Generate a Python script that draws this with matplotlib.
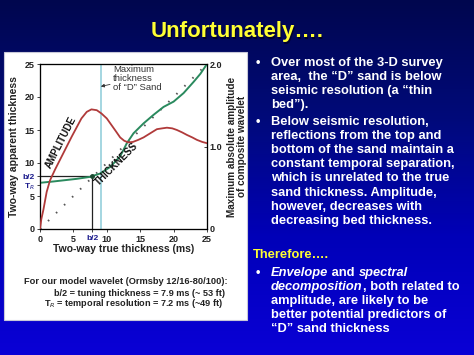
import numpy as np
import matplotlib
matplotlib.use("Agg")
import matplotlib.pyplot as plt
from matplotlib.colors import LinearSegmentedColormap
from matplotlib.patches import Rectangle

# ---------------- data ----------------
thick_x = [0, 2, 5.5, 7.5, 9, 10.5, 12, 13, 14, 15.5, 17, 18.5, 20, 21.5, 23, 24, 25]
thick_y = [7.0, 7.2, 7.6, 7.9, 8.4, 9.4, 11.0, 13.0, 14.5, 16.0, 17.3, 18.5, 19.3, 20.6, 22.3, 23.5, 25.0]

amp_x = [0, 0.2, 0.5, 1.0, 1.5, 2.25, 3.25, 4.75, 6.2, 7.0, 7.7, 8.5, 9.2, 10.0, 10.7, 11.4,
         12.0, 12.6, 13.2, 13.9, 14.7, 15.5, 16.5, 17.5, 18.3, 19.0, 19.8, 20.5, 21.3, 22.0,
         22.8, 23.5, 24.3, 25.0]
amp_y = [0.0, 0.12, 0.23, 0.45, 0.59, 0.72, 0.88, 1.12, 1.34, 1.42, 1.45, 1.44, 1.40, 1.34,
         1.26, 1.18, 1.11, 1.07, 1.05, 1.055, 1.08, 1.11, 1.16, 1.21, 1.22, 1.228, 1.22, 1.20,
         1.17, 1.14, 1.11, 1.08, 1.055, 1.04]

diag_x = [0, 25]
diag_y = [0, 25]

b_half = 7.8          # tuning thickness marker position
b_half_y = 8.0
t_r = 6.7
max_sand = 9.1

x_ticks = [0, 5, 10, 15, 20, 25]
y_ticks = [0, 5, 10, 15, 20, 25]
r_ticks = [0, 1.0, 2.0]
r_labels = ["0", "1.0", "2.0"]

title = "Unfortunately…."
bullets1 = ["Over most of the 3-D survey", "area,  the \u201cD\u201d sand is below",
            "seismic resolution (a \u201cthin", "bed\u201d)."]
bullets2 = ["Below seismic resolution,", "reflections from the top and",
            "bottom of the sand maintain a", "constant temporal separation,",
            "which is unrelated to the true", "sand thickness. Amplitude,",
            "however, decreases with", "decreasing bed thickness."]
bullets3 = [[("Envelope", "italic"), (" and ", "normal"), ("spectral", "italic")],
            [("decomposition", "italic"), (", both related to", "normal")],
            [("amplitude, are likely to be", "normal")],
            [("better potential predictors of", "normal")],
            [("\u201cD\u201d sand thickness", "normal")]]

W, H = 474, 355
fig = plt.figure(figsize=(W / 100, H / 100), dpi=100)
plt.rcParams['font.family'] = ['Liberation Sans', 'DejaVu Sans']

def fx(x):
    return x / W

def fy(y):
    return 1 - y / H

# background gradient
bg = fig.add_axes([0, 0, 1, 1], zorder=-10)
cmap = LinearSegmentedColormap.from_list("bg", ["#00064e", "#000a7a", "#0000b8", "#0a00d6"])
grad = np.linspace(0, 1, 256).reshape(-1, 1)
bg.imshow(grad, cmap=cmap, aspect="auto", extent=[0, 1, 0, 1], origin="upper")
bg.set_xlim(0, 1)
bg.set_ylim(0, 1)
bg.axis("off")

# white panel
fig.patches.append(Rectangle((fx(4), fy(320)), fx(247) - fx(4), fy(52) - fy(320),
                             transform=fig.transFigure, facecolor="white",
                             edgecolor="#c8c8d8", lw=0.8, zorder=-5))

# title (with soft shadow)
fig.text(fx(238.5), fy(33.5), title, color="#000020", fontsize=16, fontweight="bold",
         ha="center", va="center", alpha=0.8)
fig.text(fx(237), fy(32), title, color="#ffff33", fontsize=16, fontweight="bold",
         ha="center", va="center")

# ---------------- chart ----------------
ax = fig.add_axes([fx(40), fy(229), fx(207) - fx(40), fy(64) - fy(229)])
ax.set_xlim(0, 25)
ax.set_ylim(0, 25)
ax2 = ax.twinx()
ax2.set_ylim(0, 2.0)

navy = "#1a1a8c"
ax.plot(diag_x, diag_y, color="#555555", lw=1.4, linestyle=(0, (0.8, 5.0)), zorder=2)
ax.plot([0, b_half], [b_half_y, b_half_y], color="#222222", lw=0.9, zorder=3)
ax.plot([b_half, b_half], [0, b_half_y], color="#222222", lw=0.9, zorder=3)
ax.axvline(max_sand, color="#8ccbd8", lw=1.1, zorder=2)
ax.plot(thick_x, thick_y, color="#2a8a5e", lw=1.4, zorder=4)
ax.plot([b_half], [b_half_y], marker="o", ms=2.5, color="#1a4a30", zorder=5)
ax2.plot(amp_x, amp_y, color="#b03a3a", lw=1.3, zorder=4)

for s in ax.spines.values():
    s.set_color("#333333")
    s.set_linewidth(0.9)

tick_kw = dict(labelsize=6.5, length=2, width=0.6, pad=2, colors="#222222")
ax.set_xticks(x_ticks + [b_half])
ax.set_xticklabels([str(v) for v in x_ticks] + ["b/2"], fontweight="bold")
ax.set_yticks(y_ticks + [b_half_y, t_r])
ax.set_yticklabels([str(v) for v in y_ticks] + ["b/2", "T$_R$"], fontweight="bold")
ax.tick_params(axis="both", direction="out", **tick_kw)
for lab in ax.get_xticklabels()[-1:] + ax.get_yticklabels()[-2:]:
    lab.set_color(navy)
    lab.set_fontsize(6)
ax2.set_yticks(r_ticks)
ax2.set_yticklabels(r_labels, fontweight="bold")
ax2.tick_params(axis="y", direction="in", **tick_kw)

ax.set_xlabel("Two-way true thickness (ms)", fontsize=7.5, fontweight="bold",
              color="#222222", labelpad=0)
ax.set_ylabel("Two-way apparent thickness", fontsize=7.5, fontweight="bold",
              color="#222222", labelpad=2)
ax2.set_ylabel("Maximum absolute amplitude\nof composite wavelet", fontsize=7.2,
               fontweight="bold", color="#222222", labelpad=3, linespacing=1.0)

ax.text(3.1, 13.2, "AMPLITUDE", rotation=63, fontsize=7, fontweight="bold",
        ha="center", va="center", color="#111111", zorder=6)
ax.text(11.4, 9.9, "THICKNESS", rotation=45, fontsize=7, fontweight="bold",
        ha="center", va="center", color="#111111", zorder=6)
ax.annotate("Maximum\nthickness\nof \u201cD\u201d Sand", xy=(max_sand, 21.6), xytext=(10.9, 22.8),
            fontsize=6.8, color="#333333", ha="left", va="center", linespacing=1.05,
            arrowprops=dict(arrowstyle="-|>", color="#333333", lw=0.6, mutation_scale=5,
                            shrinkA=0, shrinkB=0))

# notes below chart
fig.text(fx(126), fy(282), "For our model wavelet (Ormsby 12/16-80/100):", fontsize=6.7,
         fontweight="bold", color="#222222", ha="center", va="center")
fig.text(fx(54), fy(293.5), "b/2 = tuning thickness = 7.9 ms (~ 53 ft)", fontsize=6.6,
         fontweight="bold", color="#222222", ha="left", va="center")
fig.text(fx(44), fy(304), "T$_R$ = temporal resolution = 7.2 ms (~49 ft)", fontsize=6.6,
         fontweight="bold", color="#222222", ha="left", va="center")

# ---------------- bullets ----------------
fs = 9.3
lh = 14.1

def bullet_block(lines, y0, bx=256, tx=271):
    fig.text(fx(bx), fy(y0), "\u2022", color="white", fontsize=fs, fontweight="bold",
             ha="left", va="center")
    for i, ln in enumerate(lines):
        fig.text(fx(tx), fy(y0 + i * lh), ln, color="white", fontsize=fs,
                 fontweight="bold", ha="left", va="center")

bullet_block(bullets1, 63)
bullet_block(bullets2, 122)
fig.text(fx(253), fy(255), "Therefore….", color="#ffff33", fontsize=fs, fontweight="bold",
         ha="left", va="center")

renderer = fig.canvas.get_renderer()
fig.text(fx(256), fy(273), "\u2022", color="white", fontsize=fs, fontweight="bold",
         ha="left", va="center")
for i, pieces in enumerate(bullets3):
    x = 271
    for txt, style in pieces:
        t = fig.text(fx(x), fy(273 + i * lh), txt, color="white", fontsize=fs,
                     fontweight="bold", fontstyle=style, ha="left", va="center")
        bb = t.get_window_extent(renderer=renderer)
        x += bb.width

fig.savefig("out.png", dpi=100)
